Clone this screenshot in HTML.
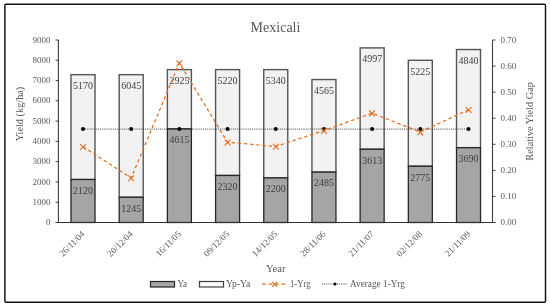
<!DOCTYPE html><html><head><meta charset="utf-8"><style>html,body{margin:0;padding:0;background:#fff;}svg{display:block;}text{font-family:"Liberation Serif", serif;}</style></head><body>
<svg width="550" height="307" viewBox="0 0 550 307">
<rect x="0" y="0" width="550" height="307" fill="#fff"/>
<rect x="4.9" y="4.25" width="540.6" height="298" rx="1" fill="none" stroke="#111" stroke-width="1.45"/>
<text x="275.50" y="32.30" font-size="14" fill="#595959" text-anchor="middle">Mexicali</text>
<rect x="71.00" y="74.68" width="24.00" height="104.84" fill="#f2f2f2" stroke="#555555" stroke-width="1.4"/>
<rect x="71.00" y="179.51" width="24.00" height="42.99" fill="#a5a5a5" stroke="#262626" stroke-width="1.3"/>
<rect x="119.19" y="74.68" width="24.00" height="122.58" fill="#f2f2f2" stroke="#555555" stroke-width="1.4"/>
<rect x="119.19" y="197.25" width="24.00" height="25.25" fill="#a5a5a5" stroke="#262626" stroke-width="1.3"/>
<rect x="167.38" y="69.61" width="24.00" height="59.31" fill="#f2f2f2" stroke="#555555" stroke-width="1.4"/>
<rect x="167.38" y="128.92" width="24.00" height="93.58" fill="#a5a5a5" stroke="#262626" stroke-width="1.3"/>
<rect x="215.57" y="69.61" width="24.00" height="105.85" fill="#f2f2f2" stroke="#555555" stroke-width="1.4"/>
<rect x="215.57" y="175.46" width="24.00" height="47.04" fill="#a5a5a5" stroke="#262626" stroke-width="1.3"/>
<rect x="263.76" y="69.61" width="24.00" height="108.28" fill="#f2f2f2" stroke="#555555" stroke-width="1.4"/>
<rect x="263.76" y="177.89" width="24.00" height="44.61" fill="#a5a5a5" stroke="#262626" stroke-width="1.3"/>
<rect x="311.95" y="79.54" width="24.00" height="92.57" fill="#f2f2f2" stroke="#555555" stroke-width="1.4"/>
<rect x="311.95" y="172.11" width="24.00" height="50.39" fill="#a5a5a5" stroke="#262626" stroke-width="1.3"/>
<rect x="360.14" y="47.91" width="24.00" height="101.33" fill="#f2f2f2" stroke="#555555" stroke-width="1.4"/>
<rect x="360.14" y="149.24" width="24.00" height="73.26" fill="#a5a5a5" stroke="#262626" stroke-width="1.3"/>
<rect x="408.33" y="60.28" width="24.00" height="105.95" fill="#f2f2f2" stroke="#555555" stroke-width="1.4"/>
<rect x="408.33" y="166.23" width="24.00" height="56.27" fill="#a5a5a5" stroke="#262626" stroke-width="1.3"/>
<rect x="456.52" y="49.53" width="24.00" height="98.14" fill="#f2f2f2" stroke="#555555" stroke-width="1.4"/>
<rect x="456.52" y="147.68" width="24.00" height="74.82" fill="#a5a5a5" stroke="#262626" stroke-width="1.3"/>
<path d="M58.40 40.00V222.50" stroke="#404040" stroke-width="1.1" fill="none"/>
<path d="M55.60 222.50H495.50" stroke="#303030" stroke-width="1.1" fill="none"/>
<path d="M492.50 40.00V222.50" stroke="#404040" stroke-width="1.1" fill="none"/>
<path d="M55.60 222.50H58.40" stroke="#404040" stroke-width="1"/>
<text x="50.50" y="225.10" font-size="9" fill="#595959" text-anchor="end">0</text>
<path d="M55.60 202.22H58.40" stroke="#404040" stroke-width="1"/>
<text x="50.50" y="204.82" font-size="9" fill="#595959" text-anchor="end">1000</text>
<path d="M55.60 181.94H58.40" stroke="#404040" stroke-width="1"/>
<text x="50.50" y="184.54" font-size="9" fill="#595959" text-anchor="end">2000</text>
<path d="M55.60 161.67H58.40" stroke="#404040" stroke-width="1"/>
<text x="50.50" y="164.27" font-size="9" fill="#595959" text-anchor="end">3000</text>
<path d="M55.60 141.39H58.40" stroke="#404040" stroke-width="1"/>
<text x="50.50" y="143.99" font-size="9" fill="#595959" text-anchor="end">4000</text>
<path d="M55.60 121.11H58.40" stroke="#404040" stroke-width="1"/>
<text x="50.50" y="123.71" font-size="9" fill="#595959" text-anchor="end">5000</text>
<path d="M55.60 100.83H58.40" stroke="#404040" stroke-width="1"/>
<text x="50.50" y="103.43" font-size="9" fill="#595959" text-anchor="end">6000</text>
<path d="M55.60 80.56H58.40" stroke="#404040" stroke-width="1"/>
<text x="50.50" y="83.16" font-size="9" fill="#595959" text-anchor="end">7000</text>
<path d="M55.60 60.28H58.40" stroke="#404040" stroke-width="1"/>
<text x="50.50" y="62.88" font-size="9" fill="#595959" text-anchor="end">8000</text>
<path d="M55.60 40.00H58.40" stroke="#404040" stroke-width="1"/>
<text x="50.50" y="42.60" font-size="9" fill="#595959" text-anchor="end">9000</text>
<path d="M492.50 222.50H495.50" stroke="#404040" stroke-width="1"/>
<text x="500.50" y="225.10" font-size="9" fill="#595959">0.00</text>
<path d="M492.50 196.43H495.50" stroke="#404040" stroke-width="1"/>
<text x="500.50" y="199.03" font-size="9" fill="#595959">0.10</text>
<path d="M492.50 170.36H495.50" stroke="#404040" stroke-width="1"/>
<text x="500.50" y="172.96" font-size="9" fill="#595959">0.20</text>
<path d="M492.50 144.29H495.50" stroke="#404040" stroke-width="1"/>
<text x="500.50" y="146.89" font-size="9" fill="#595959">0.30</text>
<path d="M492.50 118.21H495.50" stroke="#404040" stroke-width="1"/>
<text x="500.50" y="120.81" font-size="9" fill="#595959">0.40</text>
<path d="M492.50 92.14H495.50" stroke="#404040" stroke-width="1"/>
<text x="500.50" y="94.74" font-size="9" fill="#595959">0.50</text>
<path d="M492.50 66.07H495.50" stroke="#404040" stroke-width="1"/>
<text x="500.50" y="68.67" font-size="9" fill="#595959">0.60</text>
<path d="M492.50 40.00H495.50" stroke="#404040" stroke-width="1"/>
<text x="500.50" y="42.60" font-size="9" fill="#595959">0.70</text>
<text x="83.00" y="88.98" font-size="10" fill="#404040" text-anchor="middle">5170</text>
<text x="83.00" y="193.81" font-size="10" fill="#404040" text-anchor="middle">2120</text>
<text x="131.19" y="88.98" font-size="10" fill="#404040" text-anchor="middle">6045</text>
<text x="131.19" y="211.55" font-size="10" fill="#404040" text-anchor="middle">1245</text>
<text x="179.38" y="83.91" font-size="10" fill="#404040" text-anchor="middle">2925</text>
<text x="179.38" y="143.22" font-size="10" fill="#404040" text-anchor="middle">4615</text>
<text x="227.57" y="83.91" font-size="10" fill="#404040" text-anchor="middle">5220</text>
<text x="227.57" y="189.76" font-size="10" fill="#404040" text-anchor="middle">2320</text>
<text x="275.76" y="83.91" font-size="10" fill="#404040" text-anchor="middle">5340</text>
<text x="275.76" y="192.19" font-size="10" fill="#404040" text-anchor="middle">2200</text>
<text x="323.95" y="93.84" font-size="10" fill="#404040" text-anchor="middle">4565</text>
<text x="323.95" y="186.41" font-size="10" fill="#404040" text-anchor="middle">2485</text>
<text x="372.14" y="62.21" font-size="10" fill="#404040" text-anchor="middle">4997</text>
<text x="372.14" y="163.54" font-size="10" fill="#404040" text-anchor="middle">3613</text>
<text x="420.33" y="74.58" font-size="10" fill="#404040" text-anchor="middle">5225</text>
<text x="420.33" y="180.53" font-size="10" fill="#404040" text-anchor="middle">2775</text>
<text x="468.52" y="63.83" font-size="10" fill="#404040" text-anchor="middle">4840</text>
<text x="468.52" y="161.98" font-size="10" fill="#404040" text-anchor="middle">3690</text>
<path d="M83.00 129.09H468.52" stroke="#333" stroke-width="0.9" stroke-dasharray="1.07 1.07" fill="none"/>
<circle cx="83.00" cy="129.09" r="2" fill="#000"/>
<circle cx="131.19" cy="129.09" r="2" fill="#000"/>
<circle cx="179.38" cy="129.09" r="2" fill="#000"/>
<circle cx="227.57" cy="129.09" r="2" fill="#000"/>
<circle cx="275.76" cy="129.09" r="2" fill="#000"/>
<circle cx="323.95" cy="129.09" r="2" fill="#000"/>
<circle cx="372.14" cy="129.09" r="2" fill="#000"/>
<circle cx="420.33" cy="129.09" r="2" fill="#000"/>
<circle cx="468.52" cy="129.09" r="2" fill="#000"/>
<polyline points="83.00,146.68 131.19,177.97 179.38,62.92 227.57,142.28 275.76,146.43 323.95,130.60 372.14,113.10 420.33,132.06 468.52,109.72" fill="none" stroke="#e36b1e" stroke-width="1.25" stroke-dasharray="3.4 2.8"/>
<path d="M80.10 144.08L85.90 149.88M80.10 149.88L85.90 144.08" stroke="#e36b1e" stroke-width="1.1"/>
<path d="M128.29 175.37L134.09 181.17M128.29 181.17L134.09 175.37" stroke="#e36b1e" stroke-width="1.1"/>
<path d="M176.48 60.32L182.28 66.12M176.48 66.12L182.28 60.32" stroke="#e36b1e" stroke-width="1.1"/>
<path d="M224.67 139.68L230.47 145.48M224.67 145.48L230.47 139.68" stroke="#e36b1e" stroke-width="1.1"/>
<path d="M272.86 143.83L278.66 149.63M272.86 149.63L278.66 143.83" stroke="#e36b1e" stroke-width="1.1"/>
<path d="M321.05 128.00L326.85 133.80M321.05 133.80L326.85 128.00" stroke="#e36b1e" stroke-width="1.1"/>
<path d="M369.24 110.50L375.04 116.30M369.24 116.30L375.04 110.50" stroke="#e36b1e" stroke-width="1.1"/>
<path d="M417.43 129.46L423.23 135.26M417.43 135.26L423.23 129.46" stroke="#e36b1e" stroke-width="1.1"/>
<path d="M465.62 107.12L471.42 112.92M465.62 112.92L471.42 107.12" stroke="#e36b1e" stroke-width="1.1"/>
<text transform="translate(85.30 234.60) rotate(-45)" font-size="9" fill="#595959" text-anchor="end">26/11/04</text>
<text transform="translate(133.49 234.60) rotate(-45)" font-size="9" fill="#595959" text-anchor="end">20/12/04</text>
<text transform="translate(181.68 234.60) rotate(-45)" font-size="9" fill="#595959" text-anchor="end">16/11/05</text>
<text transform="translate(229.87 234.60) rotate(-45)" font-size="9" fill="#595959" text-anchor="end">09/12/05</text>
<text transform="translate(278.06 234.60) rotate(-45)" font-size="9" fill="#595959" text-anchor="end">14/12/05</text>
<text transform="translate(326.25 234.60) rotate(-45)" font-size="9" fill="#595959" text-anchor="end">28/11/06</text>
<text transform="translate(374.44 234.60) rotate(-45)" font-size="9" fill="#595959" text-anchor="end">21/11/07</text>
<text transform="translate(422.63 234.60) rotate(-45)" font-size="9" fill="#595959" text-anchor="end">02/12/08</text>
<text transform="translate(470.82 234.60) rotate(-45)" font-size="9" fill="#595959" text-anchor="end">21/11/09</text>
<text x="275.70" y="272.00" font-size="10" fill="#595959" text-anchor="middle" textLength="19.50" lengthAdjust="spacingAndGlyphs">Year</text>
<text transform="translate(22.6 114) rotate(-90)" font-size="10" fill="#595959" text-anchor="middle" textLength="54.50" lengthAdjust="spacingAndGlyphs">Yield (kg/ha)</text>
<text transform="translate(533 121.4) rotate(-90)" font-size="10" fill="#595959" text-anchor="middle" textLength="78.50" lengthAdjust="spacingAndGlyphs">Relative Yield Gap</text>
<rect x="150.5" y="281.5" width="24" height="5.5" fill="#a5a5a5" stroke="#262626" stroke-width="1.2"/>
<text x="177.50" y="287.30" font-size="9.6" fill="#595959" textLength="9.60" lengthAdjust="spacingAndGlyphs">Ya</text>
<rect x="199.5" y="281.5" width="24" height="5.5" fill="#fbfbfb" stroke="#404040" stroke-width="1.2"/>
<text x="226.00" y="287.30" font-size="9.6" fill="#595959" textLength="24.40" lengthAdjust="spacingAndGlyphs">Yp-Ya</text>
<path d="M262.2 284.2H285.2" stroke="#e36b1e" stroke-width="1.2" stroke-dasharray="3.7 2.7"/>
<path d="M272.2 281.8L277.2 286.8M272.2 286.8L277.2 281.8" stroke="#e36b1e" stroke-width="1.1"/>
<text x="290.00" y="287.30" font-size="9.6" fill="#595959" textLength="20.50" lengthAdjust="spacingAndGlyphs">1-Yrg</text>
<path d="M322 284H347" stroke="#333" stroke-width="0.9" stroke-dasharray="1.07 1.07"/>
<circle cx="335" cy="284" r="1.5" fill="#000"/>
<text x="350.00" y="287.30" font-size="9.6" fill="#595959" textLength="55.00" lengthAdjust="spacingAndGlyphs">Average 1-Yrg</text>
</svg></body></html>
